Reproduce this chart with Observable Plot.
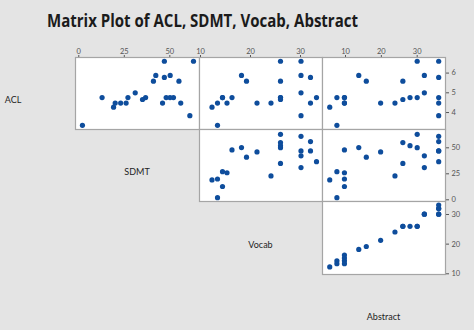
<!DOCTYPE html>
<html>
<head>
<meta charset="utf-8">
<script src="https://cdn.jsdelivr.net/npm/d3@7"></script>
<script src="https://cdn.jsdelivr.net/npm/@observablehq/plot@0.6"></script>
<style>
  html, body { margin: 0; padding: 0; background: #e4e4e4; }
  #wrap { position: relative; width: 474px; height: 330px; background: #e4e4e4; overflow: hidden; }
  #title { position: absolute; left: 47px; top: 10px; font-family: "Open Sans", Lato, sans-serif; font-weight: 700;
           font-size: 17.5px; line-height: 20px; color: #1b1b1b; white-space: nowrap; transform-origin: 0 50%; }
  .diag { position: absolute; font-family: Lato, "Open Sans", sans-serif; font-size: 9px; line-height: 1;
          color: #1e1e1e; transform: translate(-50%, -50%); white-space: nowrap; }
</style>
</head>
<body>
<div id="wrap"><div id="title">Matrix Plot of ACL, SDMT, Vocab, Abstract</div></div>
<script>
// ---- data (one value per subject) ----
const ACL      = [6.60, 3.84, 4.48, 5.78, 4.76, 6.60, 5.88, 5.88, 5.59, 5.59, 5.00, 4.76, 4.76, 4.76, 4.76, 4.76, 4.66, 4.48, 4.48, 4.48, 4.48, 4.27, 3.35];
const SDMT     = [63, 61, 56, 47, 36.7, 47, 50.2, 42.3, 41, 55, 31, 48, 52, 50.1, 12.8, 27, 35, 20, 26, 23, 46, 19.1, 2];
const Vocab    = [26, 30.1, 32, 32, 33.2, 30.1, 18.2, 30.1, 19.2, 26, 30.1, 16.3, 26, 26, 14.4, 14.4, 26, 13.4, 15.3, 24.1, 21.3, 12.3, 13.4];
const Abstract = [30, 36, 36, 36, 36, 36, 13.7, 32, 15.8, 26, 32, 9.7, 28, 30, 9.7, 7.6, 26, 9.7, 9.7, 23.8, 19.8, 5.6, 7.6];

const variables = ["ACL", "SDMT", "Vocab", "Abstract"];
const ticks = { ACL: [4, 5, 6], SDMT: [0, 25, 50], Vocab: [10, 20, 30], Abstract: [10, 20, 30] };
const xDomains = { SDMT: [-1.8, 66.3], Vocab: [9.8, 34.4], Abstract: [3.58, 37.9] };
const yDomains = { ACL: [3.14, 6.79], SDMT: [-1.63, 67.6], Vocab: [9.76, 34.38] };

const table = ACL.map((_, i) => ({ ACL: ACL[i], SDMT: SDMT[i], Vocab: Vocab[i], Abstract: Abstract[i] }));

// ---- layout ----
const colEdges = [-49, 75, 199, 322, 445];
const rowEdges = [57, 129, 201, 274, 346];
const wrap = document.getElementById("wrap");
const dotColor = "#0e4d9c";

function panel(xVar, yVar, c, r) {
  const left = colEdges[c], right = colEdges[c + 1];
  const top = rowEdges[r], bottom = rowEdges[r + 1];
  const showTop = r === 0;
  const showRight = c === 3;
  const mt = showTop ? 16 : 2, mr = showRight ? 24 : 2, ml = 2, mb = 2;
  const marks = [Plot.frame({ fill: "white", stroke: null })];
  if (showTop) marks.push(Plot.axisX(ticks[xVar], { anchor: "top", tickSize: 3, tickPadding: 1, label: null, color: "#555", fontSize: 7.5 }));
  if (showRight) marks.push(Plot.axisY(ticks[yVar], { anchor: "right", tickSize: 3, tickPadding: 3, label: null, color: "#555", fontSize: 7.5 }));
  marks.push(Plot.dot(table, { x: xVar, y: yVar, r: 2.6, fill: dotColor, stroke: null }));
  marks.push(Plot.frame({ stroke: "#a5a5a5", strokeWidth: 1.2 }));
  const svg = Plot.plot({
    width: right - left + ml + mr,
    height: bottom - top + mt + mb,
    marginTop: mt, marginRight: mr, marginBottom: mb, marginLeft: ml,
    x: { domain: xDomains[xVar], axis: showTop ? undefined : null },
    y: { domain: yDomains[yVar], axis: showRight ? undefined : null },
    style: { background: "transparent", fontFamily: "Lato, 'Open Sans', sans-serif", fontSize: "7.5px", overflow: "visible" },
    marks
  });
  svg.style.position = "absolute";
  svg.style.left = (left - ml) + "px";
  svg.style.top = (top - mt) + "px";
  wrap.appendChild(svg);
}

for (let r = 0; r < variables.length; r++) {
  for (let c = r + 1; c < variables.length; c++) {
    panel(variables[c], variables[r], c, r);
  }
}

// diagonal labels
variables.forEach((v, i) => {
  const d = document.createElement("div");
  d.className = "diag";
  d.textContent = v;
  d.style.left = ((colEdges[i] + colEdges[i + 1]) / 2) + "px";
  d.style.top = ((rowEdges[i] + rowEdges[i + 1]) / 2 + 6) + "px";
  wrap.appendChild(d);
});

// fit title width to the reference
const t = document.getElementById("title");
const w = t.getBoundingClientRect().width;
t.style.transform = `scaleX(${311 / w})`;
</script>
</body>
</html>
